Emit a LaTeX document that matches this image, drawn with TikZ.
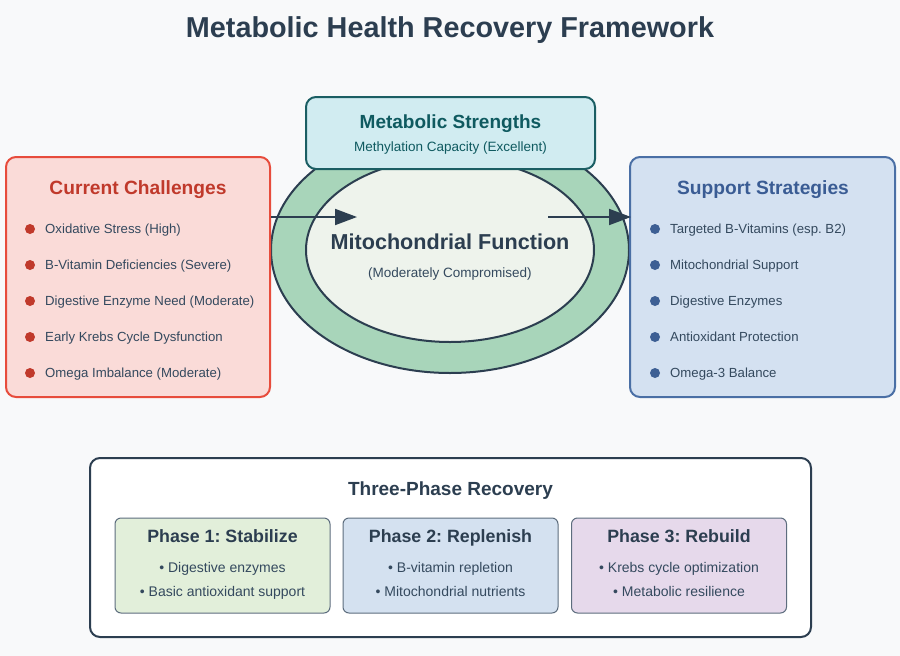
\documentclass[tikz,border=0pt]{standalone}
\usepackage{fontspec}
\setmainfont{Liberation Sans}
\frenchspacing
\usetikzlibrary{arrows.meta}
\definecolor{bg}{HTML}{F8F9FA}
\definecolor{dark}{HTML}{2C3E50}
\definecolor{txt}{HTML}{34495E}
\definecolor{redF}{HTML}{FADBD8}
\definecolor{redD}{HTML}{E74C3C}
\definecolor{redT}{HTML}{C0392B}
\definecolor{bluF}{HTML}{D4E1F1}
\definecolor{bluD}{HTML}{4A6FA5}
\definecolor{bluT}{HTML}{3A5C94}
\definecolor{bluB}{HTML}{3D5F94}
\definecolor{tealF}{HTML}{D1ECF1}
\definecolor{tealD}{HTML}{1B5E63}
\definecolor{tealT}{HTML}{0F5A60}
\definecolor{ringF}{HTML}{A8D5BA}
\definecolor{innerF}{HTML}{EEF3EC}
\definecolor{ph1}{HTML}{E2EFDA}
\definecolor{ph2}{HTML}{D4E1F0}
\definecolor{ph3}{HTML}{E6D9EB}
\definecolor{phD}{HTML}{5D6D7E}
\newcommand{\fs}[1]{\fontsize{#1}{#1}\selectfont}
\begin{document}
\begin{tikzpicture}[x=1pt,y=-1pt,
  card/.style={draw, line width=2pt, rounded corners=10pt, inner sep=0pt},
  phasebox/.style={draw=phD, line width=1pt, rounded corners=6pt, minimum width=215pt, minimum height=95pt, inner sep=0pt},
  lbl/.style={anchor=base, inner sep=0pt},
  itemtxt/.style={anchor=base west, inner sep=0pt, text=txt, font=\fs{13.2}},
  phtxt/.style={lbl, text=txt, font=\fs{14}},
  phtitle/.style={lbl, text=dark, font=\fs{17.8}\bfseries},
  arr/.style={draw=dark, line width=2pt, -{Triangle[length=22pt,width=16pt]}},
]
\useasboundingbox (0,0) rectangle (900,656);
\fill[bg] (0,0) rectangle (900,656);

\node[lbl, text=dark, font=\fs{28.8}\bfseries] (title) at (450,37) {Metabolic Health Recovery Framework};

% central ellipses
\draw[draw=dark, line width=2pt, fill=ringF] (450,250) ellipse [x radius=179pt, y radius=123pt];
\draw[draw=dark, line width=2pt, fill=innerF] (450,250) ellipse [x radius=144pt, y radius=92pt];
\node[lbl, text=dark, font=\fs{21.6}\bfseries] (mito) at (450,249) {Mitochondrial Function};
\node[lbl, text=txt, font=\fs{13.5}] (mitos) at (450,277) {(Moderately Compromised)};

% top box
\node[card, draw=tealD, fill=tealF, minimum width=289pt, minimum height=72pt] (str) at (450.5,133) {};
\node[lbl, text=tealT, font=\fs{19}\bfseries] (strt) at (450.5,128) {Metabolic Strengths};
\node[lbl, text=tealT, font=\fs{13.5}] (strs) at (450.5,151) {Methylation Capacity (Excellent)};

% left box
\node[card, draw=redD, fill=redF, minimum width=264pt, minimum height=240pt] (chal) at (138,277) {};
\node[lbl, text=redT, font=\fs{19.2}\bfseries] (chalt) at (138,194) {Current Challenges};
\foreach \y/\t [count=\i] in {229/Oxidative Stress (High), 265/B-Vitamin Deficiencies (Severe), 301/Digestive Enzyme Need (Moderate), 337/Early Krebs Cycle Dysfunction, 373/Omega Imbalance (Moderate)} {
  \fill[redT] (30,\y) circle (5pt);
  \node[itemtxt] (c\i) at (45,\y+4.7) {\t};
}

% right box
\node[card, draw=bluD, fill=bluF, minimum width=265pt, minimum height=240pt] (supp) at (762.5,277) {};
\node[lbl, text=bluT, font=\fs{19.2}\bfseries] (suppt) at (763,194) {Support Strategies};
\foreach \y/\t [count=\i] in {229/Targeted B-Vitamins (esp. B2), 265/Mitochondrial Support, 301/Digestive Enzymes, 337/Antioxidant Protection, 373/Omega-3 Balance} {
  \fill[bluB] (655,\y) circle (5pt);
  \node[itemtxt] (s\i) at (670,\y+4.7) {\t};
}

% arrows
\coordinate (a1) at (357,217);
\coordinate (a2) at (548,217);
\draw[arr] (chal.north east |- a1) -- (a1);
\draw[arr] (a2) -- ([xshift=2pt]supp.west |- a2);

% bottom box
\node[card, draw=dark, fill=white, minimum width=721pt, minimum height=179pt] (rec) at (450.5,547.5) {};
\node[lbl, text=dark, font=\fs{19}\bfseries] (rect) at (450.5,495) {Three-Phase Recovery};

\node[phasebox, fill=ph1] (p1) at (222.5,565.5) {};
\node[phasebox, fill=ph2] (p2) at (450.5,565.5) {};
\node[phasebox, fill=ph3] (p3) at (679,565.5) {};

\node[phtitle] at (222.5,542.5) {Phase 1: Stabilize};
\node[phtxt] at (222.5,572) {• Digestive enzymes};
\node[phtxt] at (222.5,596) {• Basic antioxidant support};

\node[phtitle] at (450.5,542.5) {Phase 2: Replenish};
\node[phtxt] at (450.5,572) {• B-vitamin repletion};
\node[phtxt] at (450.5,596) {• Mitochondrial nutrients};

\node[phtitle] at (679,542.5) {Phase 3: Rebuild};
\node[phtxt] at (679,572) {• Krebs cycle optimization};
\node[phtxt] at (679,596) {• Metabolic resilience};
\end{tikzpicture}
\end{document}
